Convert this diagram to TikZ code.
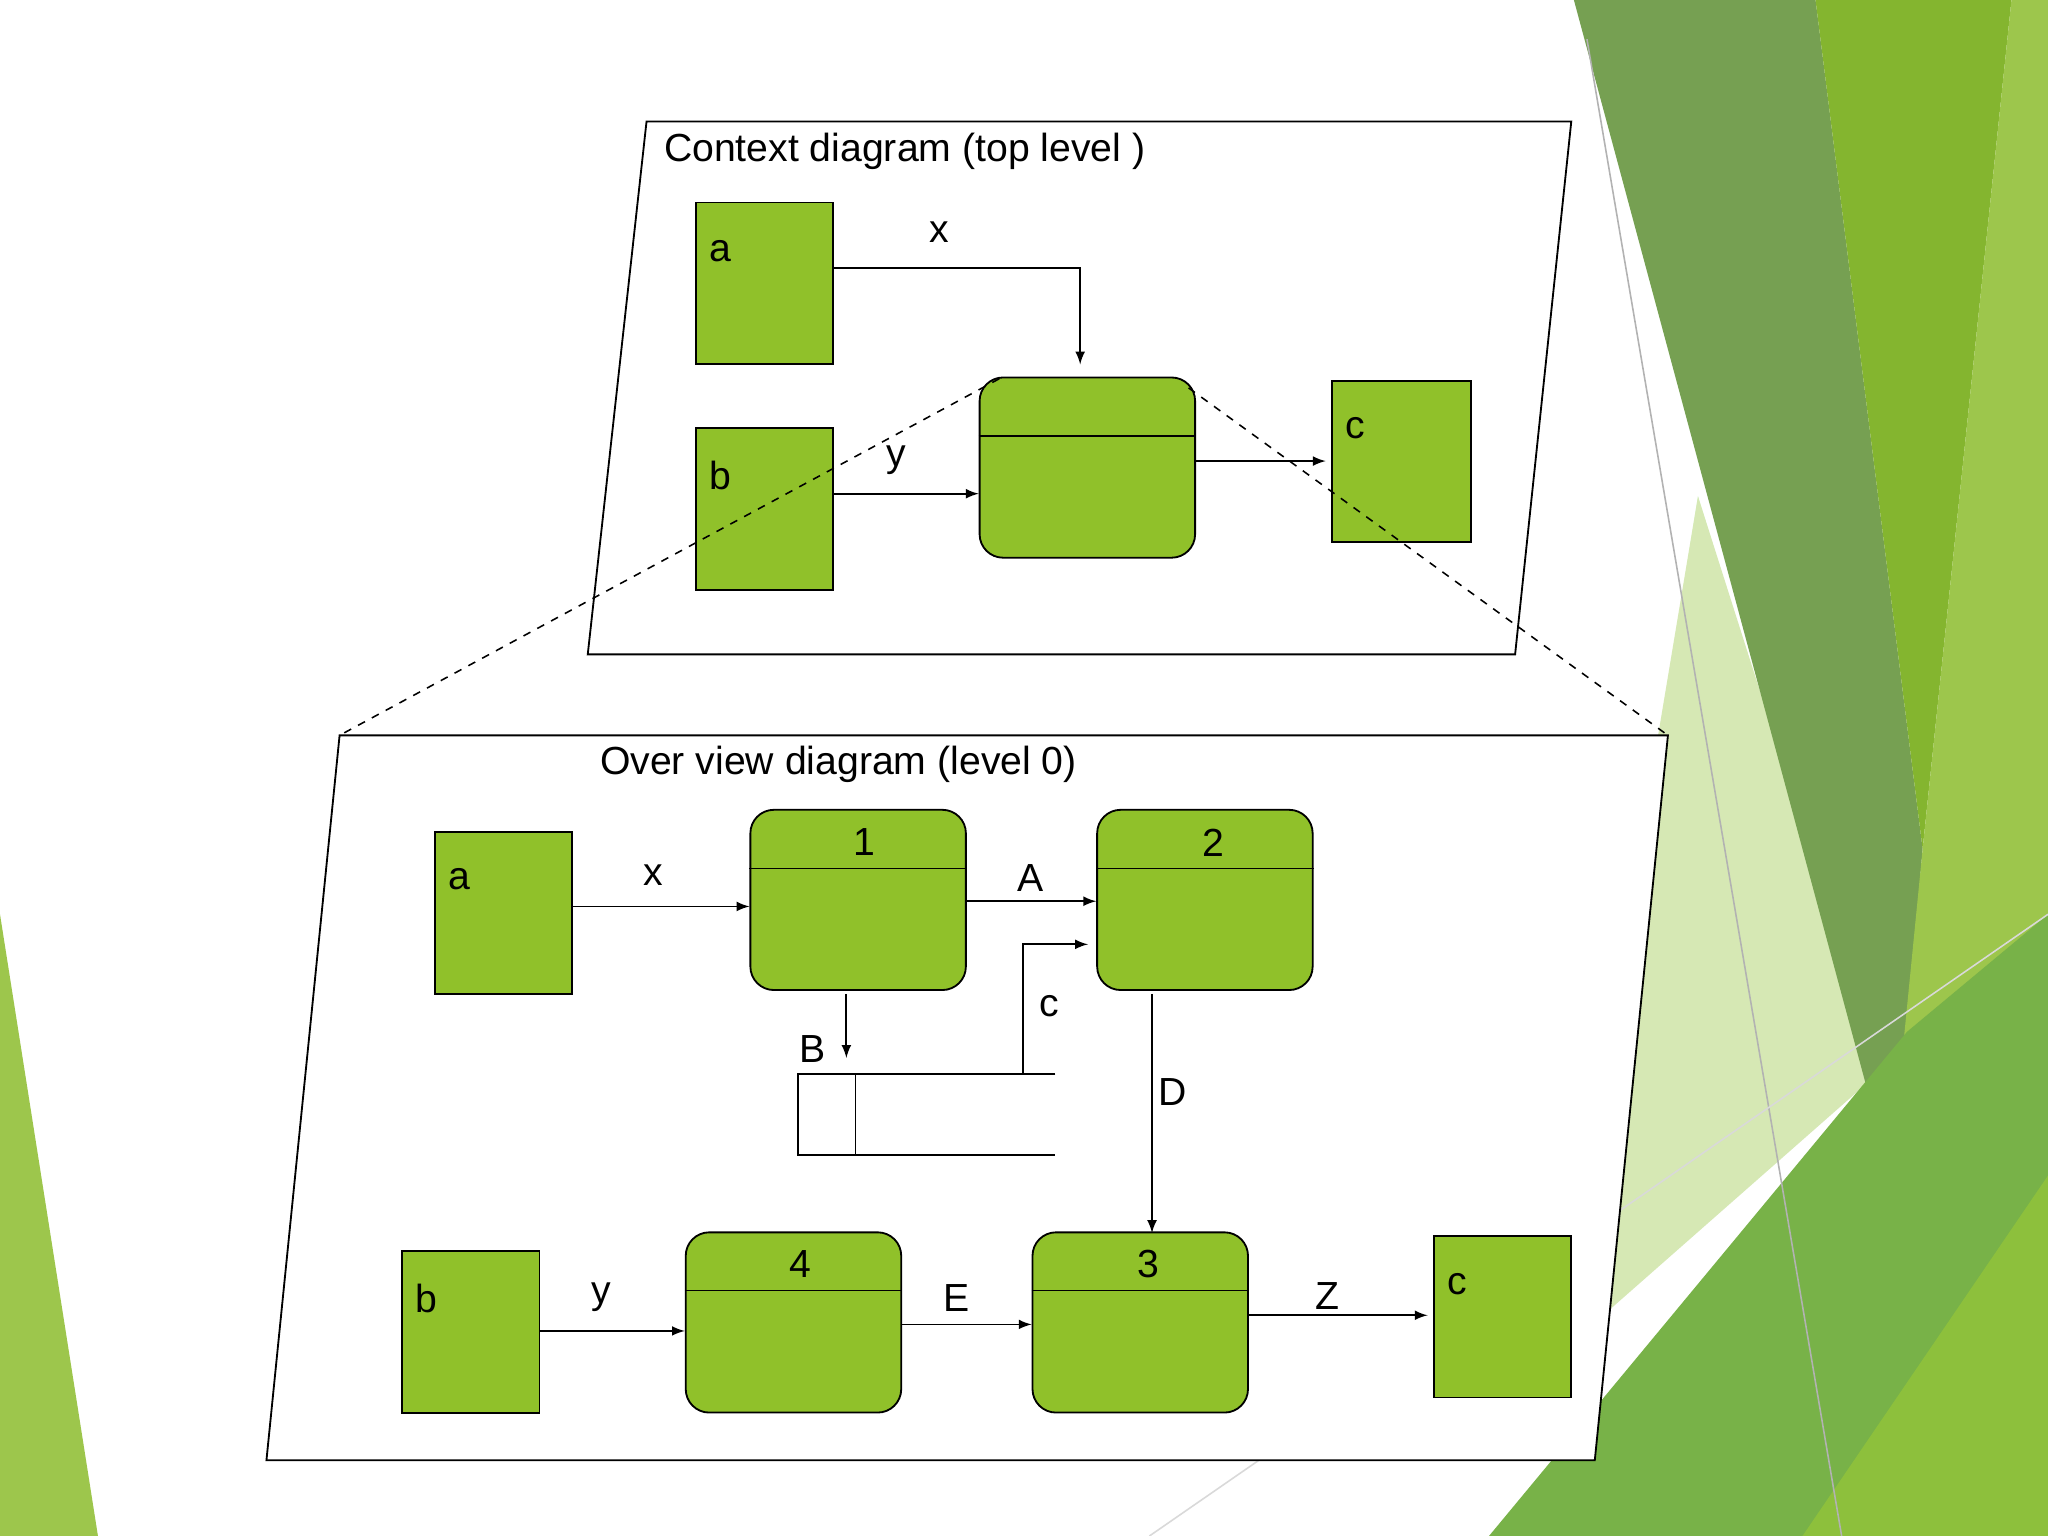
\documentclass[tikz,border=0pt]{standalone}
\usepackage{fontspec}
\setmainfont{Liberation Sans}
\begin{document}
\begin{tikzpicture}[x=0.5pt,y=-0.5pt,
 box/.style={draw,fill=boxg,line width=0.7pt,inner sep=0pt},
 proc/.style={draw,fill=boxg,line width=0.7pt,rounded corners=9pt,inner sep=0pt,minimum width=82.5pt,minimum height=69pt},
 lbl/.style={font=\fontsize{15}{18}\selectfont,inner sep=0pt},
 arr/.style={-latex,line width=0.7pt},
 frame/.style={line width=0.7pt}]
\definecolor{boxg}{HTML}{90C12A}
\useasboundingbox (0,0) rectangle (1568,1176);
% background
\fill[white] (0,0) rectangle (1568,1176);
\fill[green!20!white!90!olive, fill=green!15] (1300,380) -- (1430,800) -- (1200,1010) -- cycle;
\fill[color={rgb,255:red,214;green,232;blue,180}] (1300,380) -- (1440,820) -- (1190,1040) -- cycle;
\fill[color={rgb,255:red,118;green,160;blue,82}] (1205,0) -- (1390,0) -- (1472,650) -- (1450,910) -- cycle;
\fill[color={rgb,255:red,132;green,181;blue,47}] (1390,0) -- (1540,0) -- (1472,650) -- cycle;
\fill[color={rgb,255:red,157;green,198;blue,76}] (1540,0) -- (1568,0) -- (1568,1176) -- (1420,1176) -- (1472,650) -- cycle;
\fill[color={rgb,255:red,120;green,178;blue,72}] (1140,1176) -- (1460,790) -- (1568,700) -- (1568,1176) -- cycle;
\fill[color={rgb,255:red,141;green,192;blue,60}] (1380,1176) -- (1568,900) -- (1568,1176) -- cycle;
\fill[color={rgb,255:red,157;green,198;blue,76}] (0,700) -- (75,1176) -- (0,1176) -- cycle;
\draw[gray!60,line width=0.6pt] (1215,30) -- (1410,1176);
\draw[gray!30,line width=0.6pt] (880,1176) -- (1568,700);
% top frame
\draw[frame,fill=white] (495,93) -- (1203,93) -- (1160,501) -- (450,501) -- cycle;
\node[lbl,anchor=west] (t1) at (508,116) {Context diagram (top level )};
\node[box,minimum width=52.5pt,minimum height=62pt] (ta) at (585.5,217) {};
\node[box,minimum width=52.5pt,minimum height=62pt] (tb) at (585.5,390) {};
\node[box,minimum width=53pt,minimum height=61.5pt] (tc) at (1073,353.5) {};
\node[proc] (tp) at (832.5,358) {};
\draw[line width=0.7pt] (tp.west |- 0,334) -- (tp.east |- 0,334);
\node[lbl,anchor=west] (tal) at (543,192) {a};
\node[lbl,anchor=west] (tbl) at (543,364) {b};
\node[lbl,anchor=west] (tcl) at (1030,328) {c};
\coordinate (tk) at (827,205);
\draw[arr] (ta.east |- tk) -- (tk) -- (827,279);
\node[lbl] (tx) at (719,178) {x};
\draw[arr] (tb.east |- 0,378) -- (tp.west |- 0,378);
\node[lbl] (ty) at (686,352) {y};
\draw[arr] (tp.east |- 0,353) -- (1015,353);
% bottom frame
\draw[frame,fill=white] (260,563) -- (1277,563) -- (1221,1118) -- (204,1118) -- cycle;
\draw[dashed,line width=0.6pt] (765,290) -- (260,563);
\draw[dashed,line width=0.6pt] (910,297) -- (1277,563);
\node[lbl,anchor=west] (t2) at (459,585) {Over view diagram (level 0)};
\node[box,minimum width=52.5pt,minimum height=62pt] (ba) at (385.5,699) {};
\node[lbl,anchor=west] (bal) at (343,673) {a};
\node[proc] (p1) at (657,689) {};
\node[proc] (p2) at (922.5,689) {};
\node[proc] (p4) at (607.5,1012.5) {};
\node[proc] (p3) at (873,1012.5) {};
\draw[line width=0.7pt] (p1.west |- 0,665) -- (p1.east |- 0,665);
\draw[line width=0.7pt] (p2.west |- 0,665) -- (p2.east |- 0,665);
\draw[line width=0.7pt] (p4.west |- 0,988) -- (p4.east |- 0,988);
\draw[line width=0.7pt] (p3.west |- 0,988) -- (p3.east |- 0,988);
\node[lbl] (n1) at (662,645) {1};
\node[lbl] (n2) at (929,645) {2};
\node[lbl] (n4) at (613,968) {4};
\node[lbl] (n3) at (879,968) {3};
\draw[arr] (ba.east |- 0,694) -- (p1.west |- 0,694);
\node[lbl] (bx) at (500,670) {x};
\draw[arr] (p1.east |- 0,690) -- (p2.west |- 0,690);
\node[lbl] (bA) at (789,672) {A};
\draw[arr] (648,761) -- (648,810);
\node[lbl] (bB) at (622,803) {B};
\draw[line width=0.7pt] (808,822) -- (611,822) -- (611,884) -- (808,884);
\draw[line width=0.7pt] (655,822) -- (655,884);
\draw[arr] (783,822) -- (783,723) -- (833,723);
\node[lbl] (bc) at (803,770) {c};
\draw[arr] (882,761) -- (882,944);
\node[lbl] (bD) at (898,836) {D};
\node[box,minimum width=52.5pt,minimum height=62pt] (bb) at (360.5,1020) {};
\node[lbl,anchor=west] (bbl) at (318,994) {b};
\node[box,minimum width=52.5pt,minimum height=62pt] (bcc) at (1150.5,1008) {};
\node[lbl,anchor=west] (bccl) at (1108,983) {c};
\draw[arr] (bb.east |- 0,1019) -- (p4.west |- 0,1019);
\node[lbl] (by) at (460,993) {y};
\draw[arr] (p4.east |- 0,1014) -- (p3.west |- 0,1014);
\node[lbl] (bE) at (732,994) {E};
\draw[arr] (p3.east |- 0,1007) -- (1093,1007);
\node[lbl] (bZ) at (1016,992) {Z};
\end{tikzpicture}
\end{document}
